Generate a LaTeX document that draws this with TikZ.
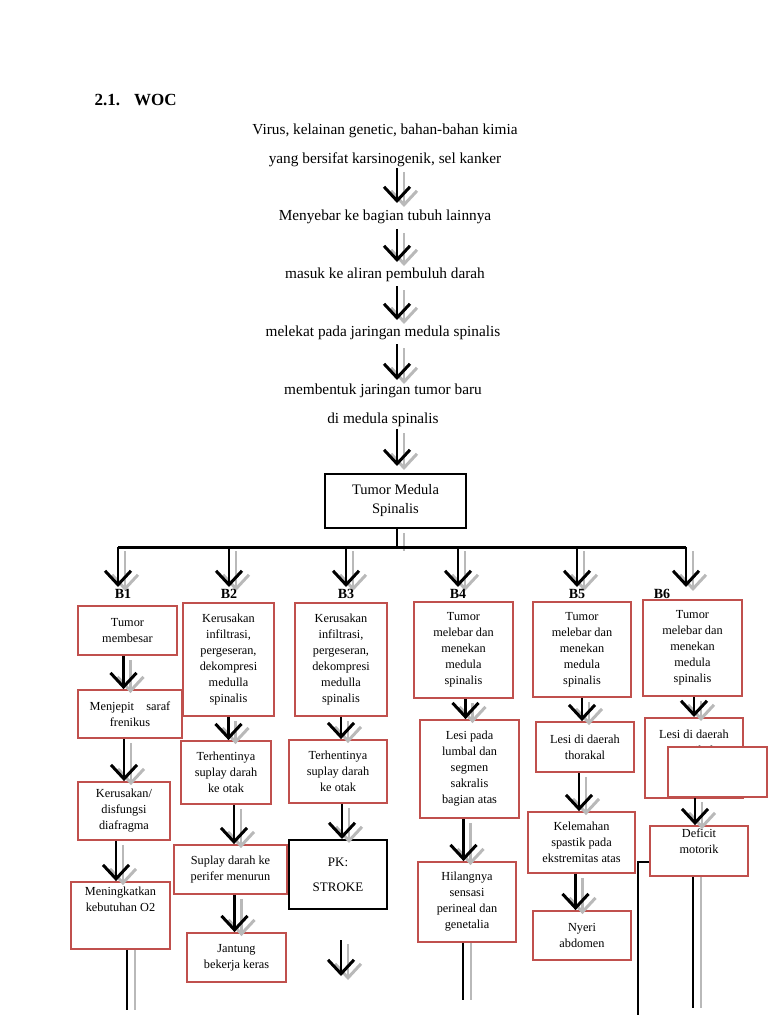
\documentclass[tikz,border=0pt]{standalone}
\usepackage{fontspec}
\setmainfont{Liberation Serif}
\usetikzlibrary{arrows.meta}
\definecolor{rb}{HTML}{C0504D}
\begin{document}
\begin{tikzpicture}[x=1pt,y=-1pt,
 dbl/.style={line width=2.6pt,-{Straight Barb[length=14pt,width=26pt,line width=3pt]},
   preaction={draw=gray!55,line width=2.6pt,transform canvas={shift={(7pt,-4pt)}}}},
 tail/.style={line width=2pt,preaction={draw=gray!55,line width=2pt,transform canvas={shift={(8pt,0pt)}}}},
 box/.style={draw=rb,line width=1.8pt,align=center,inner sep=1pt,font=\fontsize{12.3}{16}\selectfont},
 txt/.style={font=\fontsize{15.3}{17}\selectfont},
 lab/.style={font=\fontsize{14}{16}\selectfont\bfseries}]
\useasboundingbox (0,0) rectangle (768,1024);
\node[lab,anchor=west,font=\fontsize{17}{20}\selectfont\bfseries] (title) at (91,100) {2.1.\hspace{14pt}WOC};
\node[txt] (t1) at (385,131) {Virus, kelainan genetic, bahan-bahan kimia};
\node[txt] (t2) at (385,160) {yang bersifat karsinogenik, sel kanker};
\node[txt] (t3) at (385,217) {Menyebar ke bagian tubuh lainnya};
\node[txt] (t4) at (385,275) {masuk ke aliran pembuluh darah};
\node[txt] (t5) at (383,333) {melekat pada jaringan medula spinalis};
\node[txt] (t6) at (383,391) {membentuk jaringan tumor baru};
\node[txt] (t7) at (383,420) {di medula spinalis};
\coordinate (a1) at (397,168); \coordinate (b1) at (397,203);
\coordinate (a2) at (397,229); \coordinate (b2) at (397,262);
\coordinate (a3) at (397,286); \coordinate (b3) at (397,320);
\coordinate (a4) at (397,344); \coordinate (b4) at (397,380);
\coordinate (a5) at (397,429); \coordinate (b5) at (397,466);
\foreach \i in {1,...,5}{\draw[dbl] (a\i) -- (b\i);}
\node[draw,line width=1.8pt,minimum width=141pt,minimum height=54pt,align=center,font=\fontsize{14.5}{19}\selectfont] (tm) at (395.5,501) {Tumor Medula\\Spinalis};
\coordinate (h0) at (397,547);
\coordinate (hl) at (118,547); \coordinate (hr) at (686,547);
\draw[line width=2.6pt,preaction={draw=gray!55,line width=2.6pt,transform canvas={shift={(7pt,-4pt)}}}] (tm.south -| h0) -- (h0);
\draw[line width=3pt] (hl) -- (hr);
\foreach \x/\n in {118/1,229/2,346/3,458/4,577/5,686/6}{
  \coordinate (s\n) at (\x,547); \coordinate (e\n) at (\x,587);
  \draw[dbl] (s\n) -- (e\n);}
\foreach \x/\n in {123/1,229/2,346/3,458/4,577/5}{\node[lab] (L\n) at (\x,594) {B\n};}
\node[lab] (L6) at (662,594) {B6};
% B1
\node[box,minimum width=99pt,minimum height=49pt] (p1) at (127.5,630.5) {Tumor\\membesar};
\node[box,minimum width=104pt,minimum height=48pt] (p2) at (130,714) {Menjepit\quad saraf\\frenikus};
\node[box,minimum width=92pt,minimum height=58pt] (p3) at (124,811) {Kerusakan/\\disfungsi\\diafragma};
\node[box,minimum width=99pt,minimum height=67pt] (p4) at (120.5,915.5) {Meningkatkan\\kebutuhan O2\\[16pt]};
\draw[dbl] (p1.south) ++(-4,0) coordinate (q1) -- (q1 |- p2.north);
\draw[dbl] (p2.south) ++(-6,0) coordinate (q2) -- (q2 |- p3.north);
\draw[dbl] (p3.south) ++(-8,0) coordinate (q3) -- (q3 |- p4.north);
\coordinate (z1) at (127,1010);
\draw[tail] (p4.south -| z1) -- (z1);
% B2
\node[box,minimum width=91pt,minimum height=113pt] (r1) at (228.5,659.5) {Kerusakan\\infiltrasi,\\pergeseran,\\dekompresi\\medulla\\spinalis};
\node[box,minimum width=90pt,minimum height=63pt] (r2) at (226,772.5) {Terhentinya\\suplay darah\\ke otak};
\node[box,minimum width=113pt,minimum height=49pt] (r3) at (230.5,869.5) {Suplay darah ke\\perifer menurun};
\node[box,minimum width=99pt,minimum height=49pt] (r4) at (236.5,957.5) {Jantung\\bekerja keras};
\draw[dbl] (r1.south) -- (r1.south |- r2.north);
\draw[dbl] (r2.south) ++(8,0) coordinate (q4) -- (q4 |- r3.north);
\draw[dbl] (r3.south) ++(4,0) coordinate (q5) -- (q5 |- r4.north);
% B3
\node[box,minimum width=92pt,minimum height=113pt] (u1) at (341,659.5) {Kerusakan\\infiltrasi,\\pergeseran,\\dekompresi\\medulla\\spinalis};
\node[box,minimum width=98pt,minimum height=63pt] (u2) at (338,771.5) {Terhentinya\\suplay darah\\ke otak};
\node[draw,line width=2pt,align=center,minimum width=98pt,minimum height=69pt,font=\fontsize{13}{25}\selectfont] (u3) at (338,874.5) {PK:\\STROKE};
\draw[dbl] (u1.south) -- (u1.south |- u2.north);
\draw[dbl] (u2.south) ++(4,0) coordinate (q6) -- (q6 |- u3.north);
\coordinate (f1) at (341,940); \coordinate (f2) at (341,976);
\draw[dbl] (f1) -- (f2);
% B4
\node[box,minimum width=99pt,minimum height=96pt] (v1) at (463.5,650) {Tumor\\melebar dan\\menekan\\medula\\spinalis};
\node[box,minimum width=99pt,minimum height=98pt] (v2) at (469.5,769) {Lesi pada\\lumbal dan\\segmen\\sakralis\\bagian atas};
\node[box,minimum width=98pt,minimum height=80pt] (v3) at (467,902) {Hilangnya\\sensasi\\perineal dan\\genetalia};
\draw[dbl] (v1.south) ++(2,0) coordinate (q7) -- (q7 |- v2.north);
\draw[dbl] (v2.south) ++(-6,0) coordinate (q8) -- (q8 |- v3.north);
\coordinate (z4) at (463,1000);
\draw[tail] (v3.south -| z4) -- (z4);
% B5
\node[box,minimum width=98pt,minimum height=95pt] (w1) at (582,649.5) {Tumor\\melebar dan\\menekan\\medula\\spinalis};
\node[box,minimum width=98pt,minimum height=50pt] (w2) at (585,747) {Lesi di daerah\\thorakal};
\node[box,minimum width=107pt,minimum height=61pt] (w3) at (581.5,842.5) {Kelemahan\\spastik pada\\ekstremitas atas};
\node[box,minimum width=98pt,minimum height=49pt] (w4) at (582,935.5) {Nyeri\\abdomen};
\draw[dbl] (w1.south) -- (w1.south |- w2.north);
\draw[dbl] (w2.south) ++(-6,0) coordinate (q9) -- (q9 |- w3.north);
\draw[dbl] (w3.south) ++(-6,0) coordinate (q10) -- (q10 |- w4.north);
% B6
\node[box,minimum width=99pt,minimum height=96pt] (x1) at (692.5,648) {Tumor\\melebar dan\\menekan\\medula\\spinalis};
\node[box,minimum width=98pt,minimum height=80pt,anchor=north] (x2) at (694,717) {Lesi di daerah\\servikal\\dan\\lumbal};
\node[box,fill=white,minimum width=99pt,minimum height=50pt] (x3) at (717.5,772) {};
\node[box,minimum width=98pt,minimum height=50pt] (x4) at (699,851) {Deficit\\motorik\\[4pt]};
\coordinate (q11) at (694,697);
\draw[dbl] (q11) -- (q11 |- x2.north);
\coordinate (q12) at (695,798);
\draw[dbl] (q12) -- (q12 |- x4.north);
\coordinate (z6) at (693,1008);
\draw[tail] (x4.south -| z6) -- (z6);
\coordinate (k1) at (638,862); \coordinate (k2) at (638,1015);
\draw[line width=2.2pt] (x4.west |- k1) -- (k1) -- (k2);
\end{tikzpicture}
\end{document}
